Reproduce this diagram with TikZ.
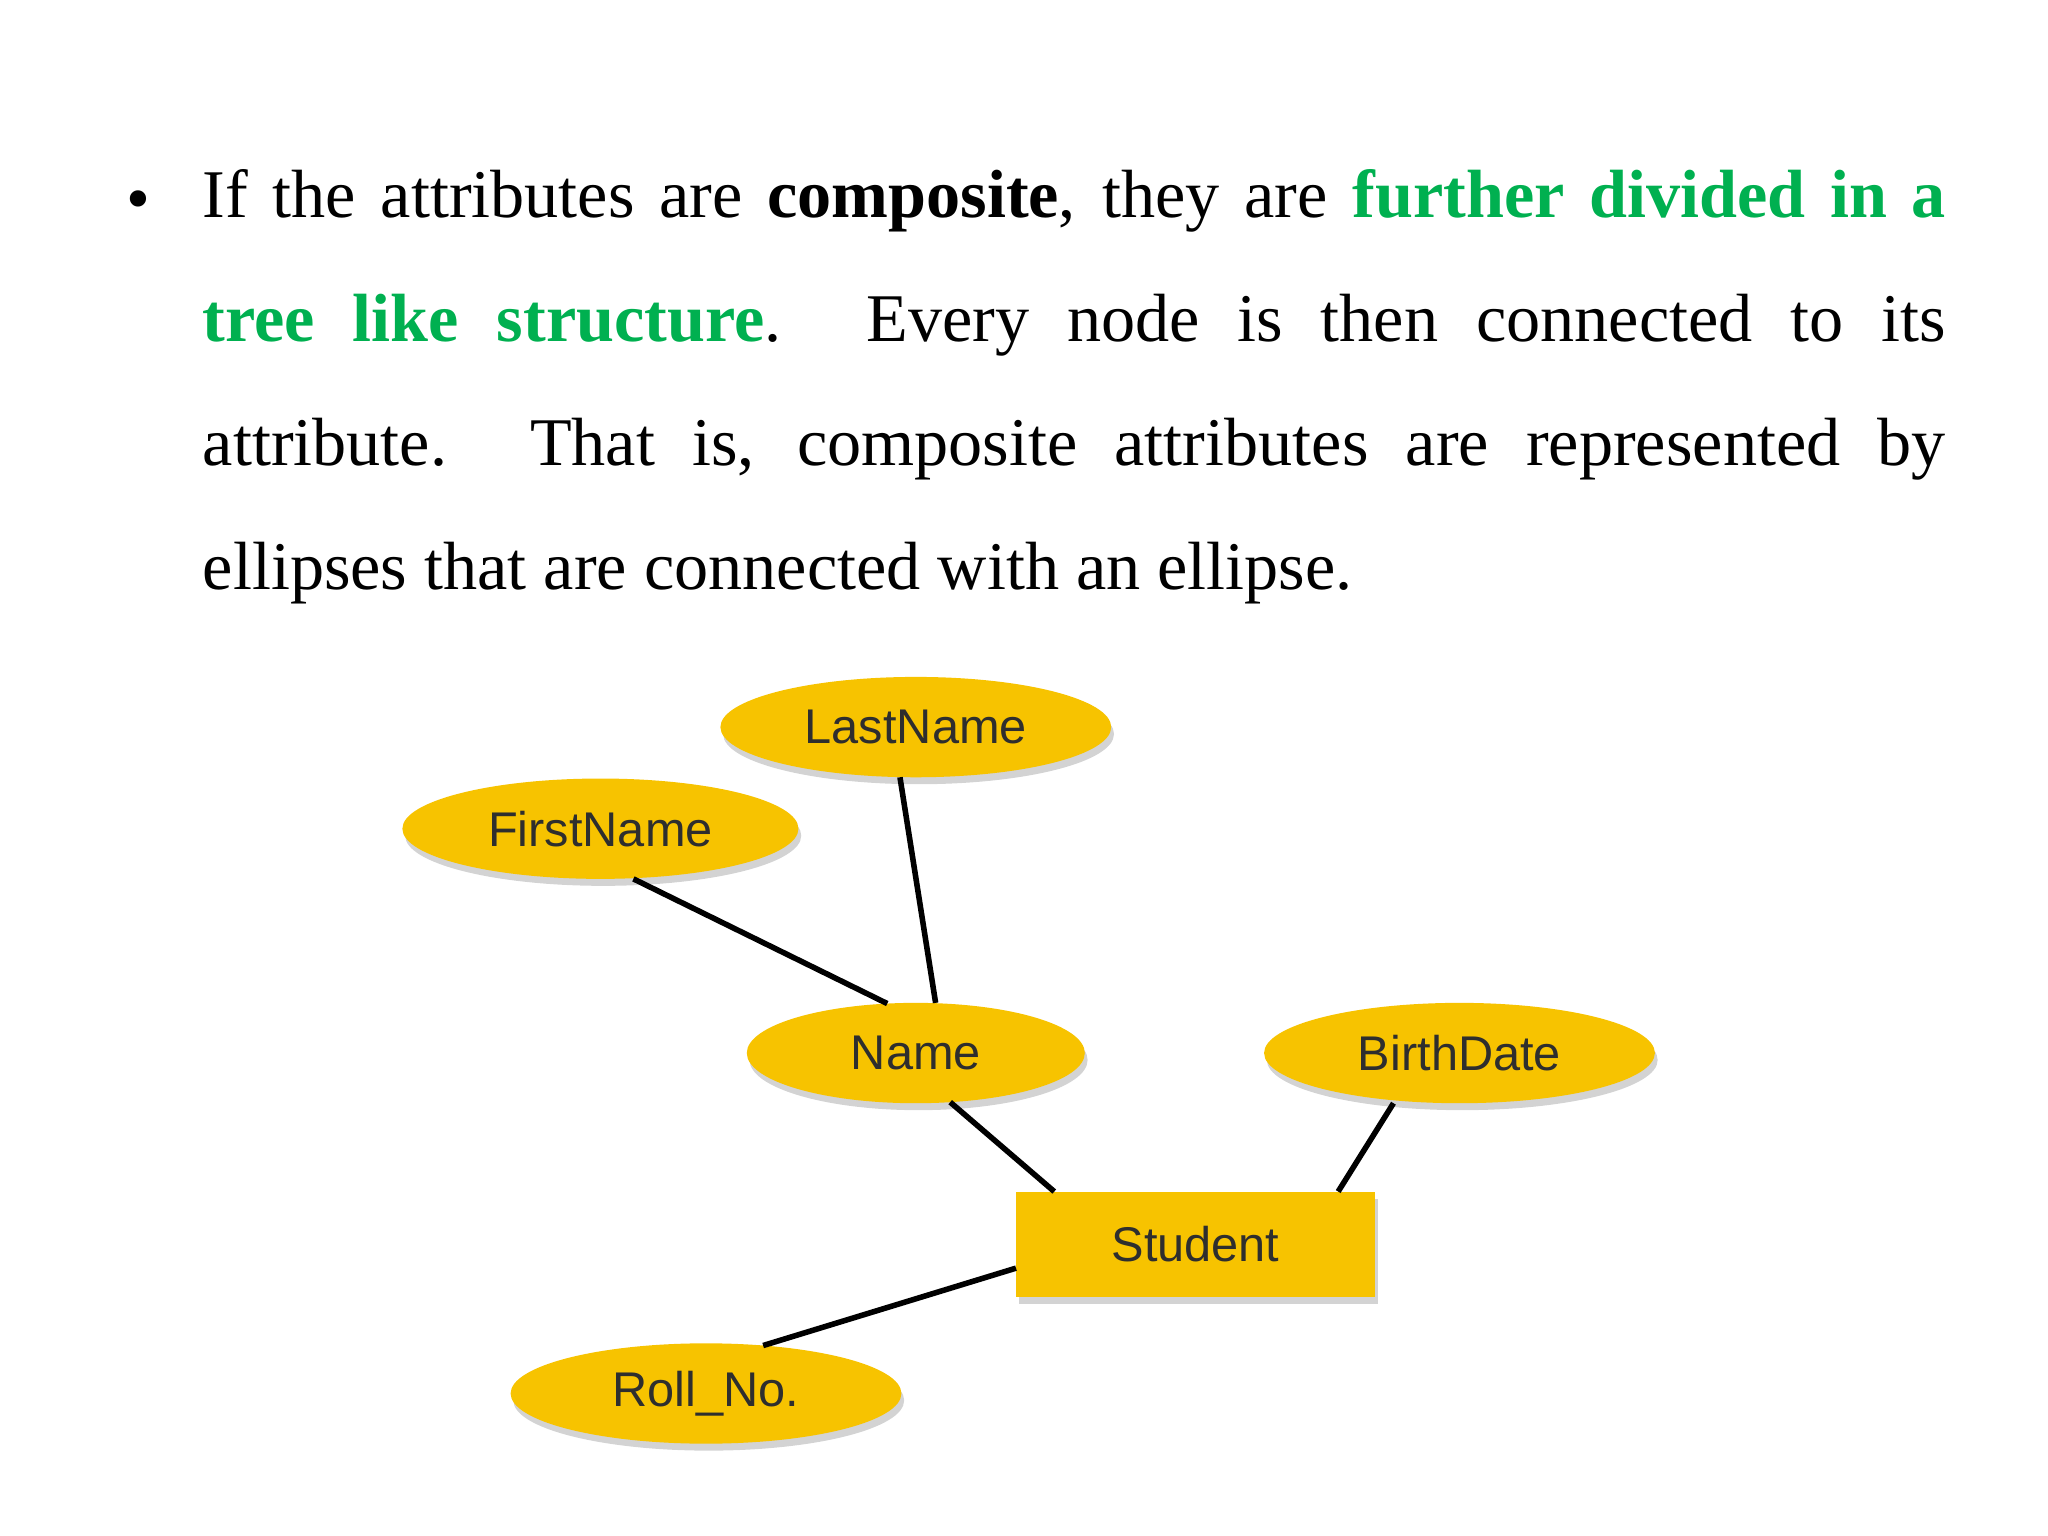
\documentclass[tikz,border=0pt]{standalone}
\usepackage{fontspec}
\setmainfont{Liberation Serif}
\newfontfamily\diagfont{Liberation Sans}
\usetikzlibrary{shapes.geometric,shadows}
\definecolor{grn}{HTML}{00B050}
\definecolor{gold}{HTML}{F7C300}
\definecolor{txt}{HTML}{2E2E2E}
\tikzset{
  attr/.style={ellipse,fill=gold,inner sep=0pt,outer sep=0pt,text=txt,font=\diagfont\fontsize{10.5}{12}\selectfont,
    drop shadow={shadow xshift=0.6pt,shadow yshift=-1.5pt,opacity=0.35,fill=gray}},
  ent/.style={rectangle,fill=gold,inner sep=0pt,outer sep=0pt,text=txt,font=\diagfont\fontsize{10.5}{12}\selectfont,
    drop shadow={shadow xshift=0.6pt,shadow yshift=-1.5pt,opacity=0.35,fill=gray}},
  link/.style={line width=1.2pt,black}
}
\begin{document}
\begin{tikzpicture}[x=0.01cm,y=-0.01cm]
\useasboundingbox (0,0) rectangle (1552,1164);
\node[anchor=base west,inner sep=0pt,font=\fontsize{14.7}{27}\selectfont] (bul) at (95,168) {\textbullet};
\node[anchor=north west,inner sep=0pt,text width=13.2cm,align=justify,font=\fontsize{14.7}{26.7}\selectfont] (para) at (153,128)
 {\hyphenpenalty=10000 If the attributes are \textbf{composite}, they are \textbf{\color{grn}further divided in a}\linebreak \textbf{\color{grn}tree like structure}. Every node is then connected to its\linebreak attribute. That is, composite attributes are represented by\linebreak ellipses that are connected with an ellipse.};
\node[attr,minimum width=2.96cm,minimum height=0.76cm] (ln) at (694,551) {LastName};
\node[attr,minimum width=3.0cm,minimum height=0.76cm] (fn) at (455,628) {FirstName};
\node[attr,minimum width=2.56cm,minimum height=0.76cm] (nm) at (694,798) {Name};
\node[attr,minimum width=2.96cm,minimum height=0.76cm] (bd) at (1106,798) {BirthDate};
\node[ent,minimum width=2.72cm,minimum height=0.80cm] (st) at (906,943) {Student};
\node[attr,minimum width=2.96cm,minimum height=0.76cm] (rn) at (535,1056) {Roll\_No.};
\draw[link] ([xshift=0.25cm]fn.south) -- (nm.120);
\draw[link] ([xshift=-0.12cm]ln.south) -- ([xshift=0.15cm]nm.north);
\draw[link] (nm.-55) -- ([xshift=-1.07cm]st.north);
\draw[link] ([xshift=-0.5cm]bd.south) -- ([xshift=1.08cm]st.north);
\draw[link] ([yshift=-0.18cm]st.west) -- (rn.40);
\end{tikzpicture}
\end{document}
